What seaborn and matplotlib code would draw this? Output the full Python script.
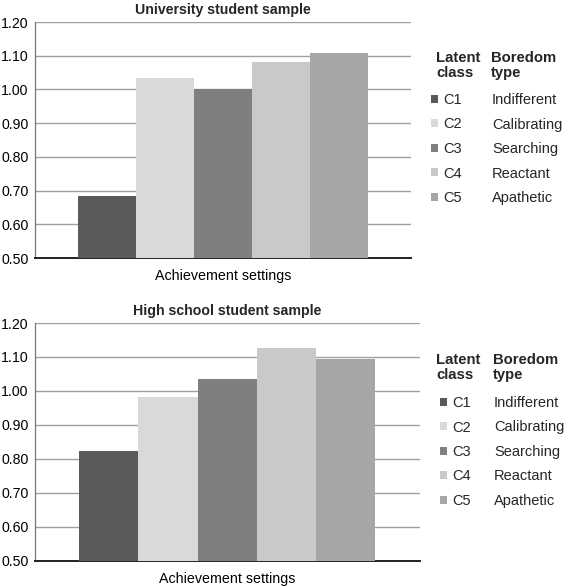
import pandas as pd
import numpy as np
import matplotlib
matplotlib.use("Agg")
import matplotlib.pyplot as plt
import seaborn as sb

# data
classes = ["C1", "C2", "C3", "C4", "C5"]
boredom_types = ["Indifferent", "Calibrating", "Searching", "Reactant", "Apathetic"]
setting = "Achievement settings"
univ_values = [0.684, 1.034, 1.002, 1.080, 1.108]
high_values = [0.823, 0.981, 1.034, 1.127, 1.094]
grays = ["#5a5a5a", "#d9d9d9", "#7f7f7f", "#c9c9c9", "#a6a6a6"]

sb.set_style("white")
plt.rcParams["font.family"] = ["Liberation Sans", "DejaVu Sans"]

W, H = 568, 587
fig = plt.figure(figsize=(W / 100, H / 100), dpi=100)

def px(x, y):
    # pixel from top-left -> figure fraction
    return x / W, (H - y) / H

panels = [
    # title, values, axes box (left, top, right, bottom px), legend x, header y, C3 row y, desc x
    ("University student sample", univ_values, (35, 22, 411, 258), 431, 65.5, 149, 492),
    ("High school student sample", high_values, (35, 323, 419.5, 560.7), 440, 367.5, 452, 494),
]

for title, vals, box, leg_x, head_y, mid_y, desc_x in panels:
    l, t, r, b = box
    ax = fig.add_axes([l / W, (H - b) / H, (r - l) / W, (b - t) / H])
    df = pd.DataFrame({"setting": [setting] * 5, "cls": classes, "value": vals})
    sb.barplot(data=df, x="setting", y="value", hue="cls", palette=grays,
               width=0.77, saturation=1, linewidth=0, ax=ax, zorder=3)
    ax.set_ylim(0.5, 1.2)
    ax.set_yticks(np.arange(0.5, 1.21, 0.1))
    ax.set_yticklabels([f"{v:.2f}" for v in np.arange(0.5, 1.21, 0.1)])
    ax.yaxis.grid(True, color="#a0a0a0", linewidth=1.0, zorder=0)
    ax.set_axisbelow(True)
    ax.set_xlabel("")
    ax.set_ylabel("")
    ax.tick_params(axis="y", length=0, labelsize=10.2, colors="black", pad=4.5)
    ax.tick_params(axis="x", length=0, labelsize=10.3, colors="black", pad=8)
    for s in ["top", "right"]:
        ax.spines[s].set_visible(False)
    ax.spines["left"].set_color("#777777")
    ax.spines["left"].set_linewidth(0.9)
    ax.spines["bottom"].set_color("#222222")
    ax.spines["bottom"].set_linewidth(1.4)
    ax.set_title(title, fontsize=10.2, fontweight="bold", pad=6)

    handles, labels = ax.get_legend_handles_labels()
    lx, ly = px(leg_x, mid_y)
    leg = ax.legend(handles, labels, loc="center left", bbox_to_anchor=(lx, ly),
                    bbox_transform=fig.transFigure, frameon=False, fontsize=10.5,
                    handlelength=0.5, handleheight=0.5, handletextpad=0.35,
                    labelspacing=0.72, borderpad=0, borderaxespad=0)
    hx, hy = px(436, head_y)
    fig.text(hx, hy, "Latent\nclass", fontsize=10.7, fontweight="bold",
             va="center", ha="left", linespacing=1.15)
    bx, _ = px(desc_x - 1, 0)
    fig.text(bx, hy, "Boredom\ntype", fontsize=10.7, fontweight="bold",
             va="center", ha="left", linespacing=1.15)

    fig.canvas.draw()
    inv = fig.transFigure.inverted()
    for txt, name in zip(leg.get_texts(), boredom_types):
        bb = txt.get_window_extent()
        cy = inv.transform(((bb.x0 + bb.x1) / 2, (bb.y0 + bb.y1) / 2))[1]
        dx, _ = px(desc_x, 0)
        fig.text(dx, cy, name, fontsize=10.5, va="center", ha="left")

fig.savefig("out.png", dpi=100)
